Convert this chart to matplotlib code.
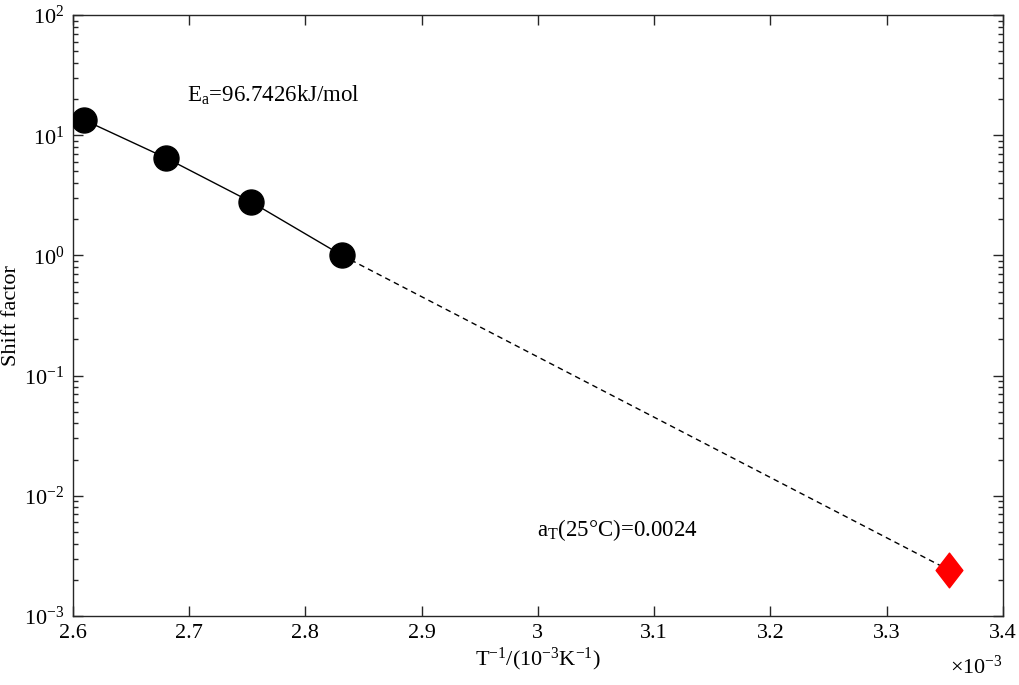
import numpy as np
import matplotlib
matplotlib.use("Agg")
import matplotlib.pyplot as plt
from matplotlib.ticker import LogLocator, FixedLocator, FuncFormatter, NullFormatter
from matplotlib.path import Path

# ---- data ----
inv_T = [2.6099e-3, 2.6799e-3, 2.7537e-3, 2.8317e-3]   # 1/T (K^-1)
shift = [13.4, 6.5, 2.78, 1.0]                          # shift factor aT
inv_T_ref = 3.354e-3                                    # 25 °C
shift_ref = 0.0024
x_ticks = [2.6e-3, 2.7e-3, 2.8e-3, 2.9e-3, 3.0e-3, 3.1e-3, 3.2e-3, 3.3e-3, 3.4e-3]
label_Ea = r"E$_{\rm a}$=96.7426kJ/mol"
label_aT = r"a$_{\rm T}$(25°C)=0.0024"

plt.rcParams['font.family'] = ['Liberation Serif', 'DejaVu Serif']
plt.rcParams['mathtext.fontset'] = 'custom'
plt.rcParams['mathtext.rm'] = 'Liberation Serif'
plt.rcParams['mathtext.it'] = 'Liberation Serif:italic'
plt.rcParams['axes.unicode_minus'] = False

fs = 16
axc = '#262626'

fig = plt.figure(figsize=(10.2, 6.85), dpi=100)
ax = fig.add_axes([0.0712, 0.1007, 0.9833 - 0.0712, 0.978 - 0.1007])

# lines
ax.plot(inv_T, shift, '-', color='black', lw=1.0, zorder=2)
ax.plot([inv_T[-1], inv_T_ref], [shift[-1], shift_ref], color='black', lw=1.0,
        linestyle=(0, (4, 3)), zorder=2)
ax.plot(inv_T, shift, 'o', color='black', markersize=18, zorder=3)

diamond = Path([(0, 0.5), (0.385, 0), (0, -0.5), (-0.385, 0), (0, 0.5)],
               [Path.MOVETO, Path.LINETO, Path.LINETO, Path.LINETO, Path.CLOSEPOLY])
ax.plot([inv_T_ref], [shift_ref], marker=diamond, color='red', markersize=25,
        linestyle='none', zorder=3)

ax.set_yscale('log')
ax.set_xlim(2.6e-3, 3.4e-3)
ax.set_ylim(1e-3, 1e2)
ax.xaxis.set_major_locator(FixedLocator(x_ticks))
ax.xaxis.set_major_formatter(FuncFormatter(lambda v, p: '%g' % round(v * 1e3, 4)))
ax.yaxis.set_major_locator(LogLocator(base=10, numticks=10))
ax.yaxis.set_minor_locator(LogLocator(base=10, subs=np.arange(2, 10), numticks=20))
ax.yaxis.set_minor_formatter(NullFormatter())

ax.tick_params(which='both', direction='in', top=True, right=True, colors=axc,
               labelcolor='black', labelsize=fs, width=1.0)
ax.tick_params(which='major', length=7.2, pad=6)
ax.tick_params(which='minor', length=3.6)
for s in ax.spines.values():
    s.set_color(axc)
    s.set_linewidth(1.0)

ax.set_xlabel(r"T$^{-1}$/(10$^{-3}$K$^{-1}$)", fontsize=fs, labelpad=2)
ax.set_ylabel("Shift factor", fontsize=fs)
ax.yaxis.set_label_coords(-0.0555, 0.5)
ax.text(1.0, -0.085, r"$\times$10$^{-3}$", transform=ax.transAxes, ha='right',
        va='center', fontsize=fs)

ax.text(2.698e-3, 10 ** (2 - (95 - 15) / 120.2), label_Ea, fontsize=fs + 0.5, va='center', ha='left')
ax.text(2.9993e-3, 10 ** (2 - (530 - 15) / 120.2), label_aT, fontsize=fs + 0.5, va='center', ha='left')

fig.savefig('out.png', dpi=100)
